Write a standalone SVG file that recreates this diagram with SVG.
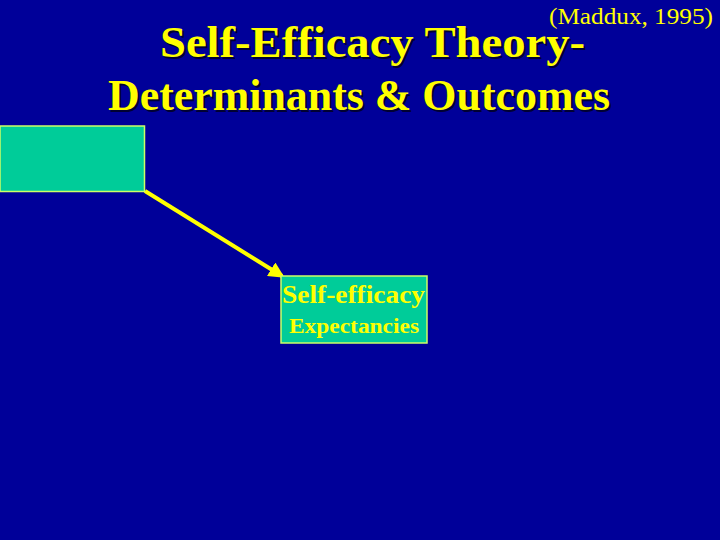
<svg xmlns="http://www.w3.org/2000/svg" width="720" height="540" viewBox="0 0 720 540">
<defs>
<marker id="ah" markerWidth="4" markerHeight="4" refX="3.2" refY="2" orient="auto" markerUnits="strokeWidth"><path d="M0,0 L4,2 L0,4 Z" fill="#ffff00"/></marker>
<style>
.title{font-family:"Liberation Serif","Times New Roman",serif;font-weight:bold;font-size:45px;fill:#ffff00}
.shadow{font-family:"Liberation Serif","Times New Roman",serif;font-weight:bold;font-size:45px;fill:#000033}
.cite{font-family:"Liberation Serif","Times New Roman",serif;font-size:23px;fill:#ffff00}
.box{fill:#00cc99;stroke:#ccff66;stroke-width:1.5}
.lbl{font-family:"Liberation Serif","Times New Roman",serif;font-weight:bold;fill:#ffff00}
</style>
</defs>
<rect width="720" height="540" fill="#000099"/>
<g id="title">
<text class="shadow" x="162" y="59" textLength="425" lengthAdjust="spacingAndGlyphs">Self-Efficacy Theory-</text>
<text class="title" x="160" y="57" textLength="425" lengthAdjust="spacingAndGlyphs">Self-Efficacy Theory-</text>
<text class="shadow" x="110" y="112" textLength="502" lengthAdjust="spacingAndGlyphs">Determinants &amp; Outcomes</text>
<text class="title" x="108" y="110" textLength="502" lengthAdjust="spacingAndGlyphs">Determinants &amp; Outcomes</text>
<text class="cite" x="549" y="24" textLength="164" lengthAdjust="spacingAndGlyphs">(Maddux, 1995)</text>
</g>
<g id="connectors">
<line x1="145" y1="191" x2="282" y2="276" stroke="#ffff00" stroke-width="4" marker-end="url(#ah)"/>
</g>
<g id="node-determinant">
<rect class="box" x="0" y="126" width="144.5" height="65.5"/>
</g>
<g id="node-self-efficacy">
<rect class="box" x="281" y="276" width="146" height="67"/>
<text class="lbl" x="282" y="303" font-size="26" textLength="143" lengthAdjust="spacingAndGlyphs">Self-efficacy</text>
<text class="lbl" x="289" y="333" font-size="22" textLength="130" lengthAdjust="spacingAndGlyphs">Expectancies</text>
</g>
</svg>
